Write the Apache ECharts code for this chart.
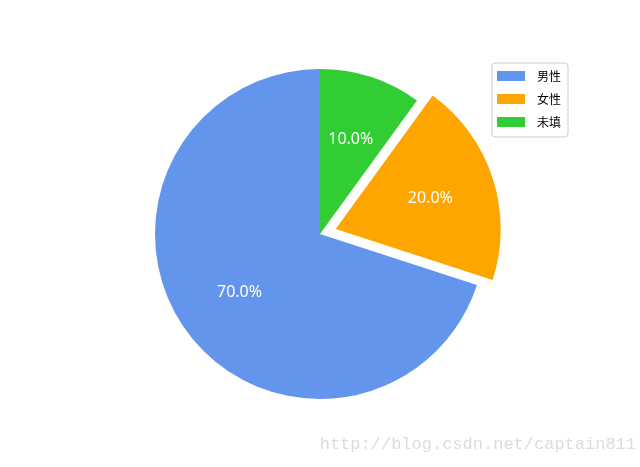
<!DOCTYPE html>
<html>
<head>
<meta charset="utf-8">
<script src="https://cdn.jsdelivr.net/npm/echarts@6/dist/echarts.min.js"></script>
<style>html,body{margin:0;padding:0;background:#fff}#c{width:640px;height:467px}</style>
</head>
<body>
<div id="c"></div>
<script>
var categories = ['男性', '女性', '未填'];
var values = [70, 20, 10];
var colors = ['#6495ED', '#FFA500', '#32CD32'];
var exploded = [false, true, false];

var chart = echarts.init(document.getElementById('c'));
var R = 165;
var pieData = categories.map(function (n, i) {
  return { name: n, value: values[i], selected: exploded[i], itemStyle: { color: colors[i] } };
});
var labelData = categories.map(function (n, i) {
  return { name: n, value: values[i], selected: exploded[i] };
});
chart.setOption({
  animation: false,
  legend: {
    orient: 'vertical',
    left: 492,
    top: 63,
    padding: [6, 7, 8, 5],
    itemWidth: 28,
    itemHeight: 10,
    itemGap: 9,
    icon: 'rect',
    backgroundColor: '#fff',
    borderColor: '#cccccc',
    borderWidth: 1,
    borderRadius: 3,
    data: categories.map(function (n, i) { return { name: n, itemStyle: { color: colors[i] } }; }),
    textStyle: { fontFamily: 'Noto Sans CJK SC', fontSize: 12, color: '#000', lineHeight: 14, padding: [0, 0, 0, 7] },
    selectedMode: false
  },
  graphic: [{
    type: 'text',
    right: 4,
    top: 436,
    style: { text: 'http://blog.csdn.net/captain811', fontFamily: 'Liberation Mono', fontSize: 17, fill: '#dcdcdc' }
  }],
  series: [{
    type: 'pie',
    center: [320, 234],
    radius: [0, R],
    startAngle: 90,
    clockwise: false,
    selectedMode: 'multiple',
    selectedOffset: 16.5,
    silent: true,
    label: { show: false },
    labelLine: { show: false },
    emphasis: { disabled: true, scale: false },
    itemStyle: { borderWidth: 0 },
    data: pieData
  }, {
    type: 'pie',
    center: [320, 234],
    radius: [28, R],
    startAngle: 90,
    clockwise: false,
    selectedMode: 'multiple',
    selectedOffset: 16.5,
    silent: true,
    avoidLabelOverlap: false,
    itemStyle: { color: 'rgba(0,0,0,0)', borderWidth: 0 },
    emphasis: { disabled: true, scale: false },
    label: {
      show: true,
      position: 'inside',
      formatter: function (p) { return p.value.toFixed(1) + '%'; },
      color: '#fff',
      fontFamily: 'Noto Sans',
      fontSize: 16,
      textBorderWidth: 0
    },
    labelLine: { show: false },
    data: labelData
  }]
});
</script>
</body>
</html>
